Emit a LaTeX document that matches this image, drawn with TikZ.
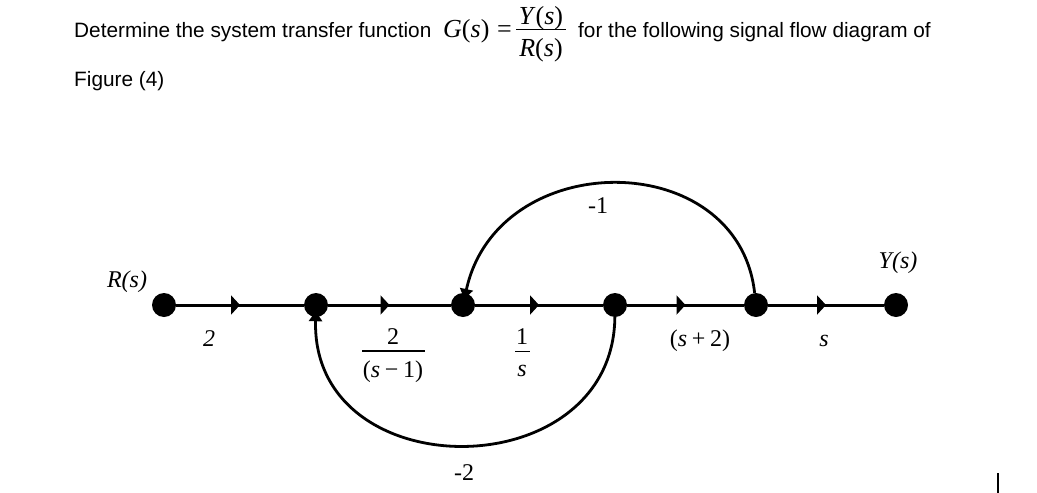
\documentclass[tikz,border=0pt]{standalone}
\usepackage{fontspec}
\setmainfont{Liberation Sans}
\newfontfamily\tnr{Liberation Serif}
\usetikzlibrary{arrows.meta,decorations.markings}
\tikzset{
  sfnode/.style={circle,fill=black,inner sep=0pt,minimum size=24pt},
  branch/.style={line width=3pt,postaction={decorate},
    decoration={markings,mark=at position 0.5 with {\arrow{Triangle[length=9pt,width=19pt]}}}},
  fb/.style={line width=2.8pt,-{Triangle[length=10pt,width=13pt]},shorten >=-6pt},
  sftext/.style={font=\fontsize{20.8}{24}\selectfont,inner sep=0pt,anchor=base west},
  eq/.style={font=\tnr\fontsize{26}{30}\selectfont,inner sep=0pt},
  lab/.style={font=\tnr\fontsize{24}{28}\selectfont,inner sep=0pt},
  bigl/.style={font=\tnr\fontsize{24}{28}\selectfont,inner sep=0pt},
  fracbar/.style={line width=1.2pt}
}
\begin{document}
\begin{tikzpicture}[x=1pt,y=-1pt]
\useasboundingbox (0,0) rectangle (1037,493);
\fill[white] (0,0) rectangle (1037,493);
% question text
\node[sftext] (t1) at (74,37) {Determine the system transfer function};
\node[eq,anchor=base west] (geq) at (443,37) {\textit{G}(\textit{s})\hspace{0.3em}=};
\node[eq] (num) at (541,18) {\textit{Y}(\textit{s})};
\node[eq] (den) at (541,50) {\textit{R}(\textit{s})};
\draw[fracbar] (516,29.5) -- (566,29.5);
\node[sftext] (t2) at (578,37) {for the following signal flow diagram of};
\node[sftext] (t3) at (74,86) {Figure (4)};
% nodes
\node[sfnode] (R)  at (164,305) {};
\node[sfnode] (n2) at (316,305) {};
\node[sfnode] (n3) at (463,305) {};
\node[sfnode] (n4) at (615,305) {};
\node[sfnode] (n5) at (756,305) {};
\node[sfnode] (Y)  at (896,305) {};
% branches
\draw[branch] (R) -- (n2);
\draw[branch] (n2) -- (n3);
\draw[branch] (n3) -- (n4);
\draw[branch] (n4) -- (n5);
\draw[branch] (n5) -- (Y);
% feedback loops
\draw[fb] (n5) .. controls (738,146) and (498,146) .. (n3);
\draw[fb] (n4) .. controls (613,489) and (311,489) .. (n2);
% labels
\node[bigl] (Rl) at (127,282) {\textit{R(s)}};
\node[bigl] (Yl) at (898,263) {\textit{Y(s)}};
\node[lab] (g1) at (209,339) {\textit{2}};
\node[lab] (g2n) at (393,337) {2};
\draw[fracbar] (362,351) -- (425,351);
\node[lab] (g2d) at (393,372) {(\textit{s}\hspace{0.2em}−\hspace{0.2em}1)};
\node[lab] (g3n) at (522,337) {1};
\draw[fracbar] (515,351.5) -- (530,351.5);
\node[lab] (g3d) at (522,371) {\textit{s}};
\node[lab] (g4) at (700,341) {(\textit{s}\hspace{0.2em}+\hspace{0.2em}2)};
\node[lab] (g5) at (824,341) {\textit{s}};
\node[bigl] (m1) at (598,206) {-1};
\node[bigl] (m2) at (464,473) {-2};
% cursor mark
\draw[line width=2pt] (998,473) -- (998,493);
\end{tikzpicture}
\end{document}
